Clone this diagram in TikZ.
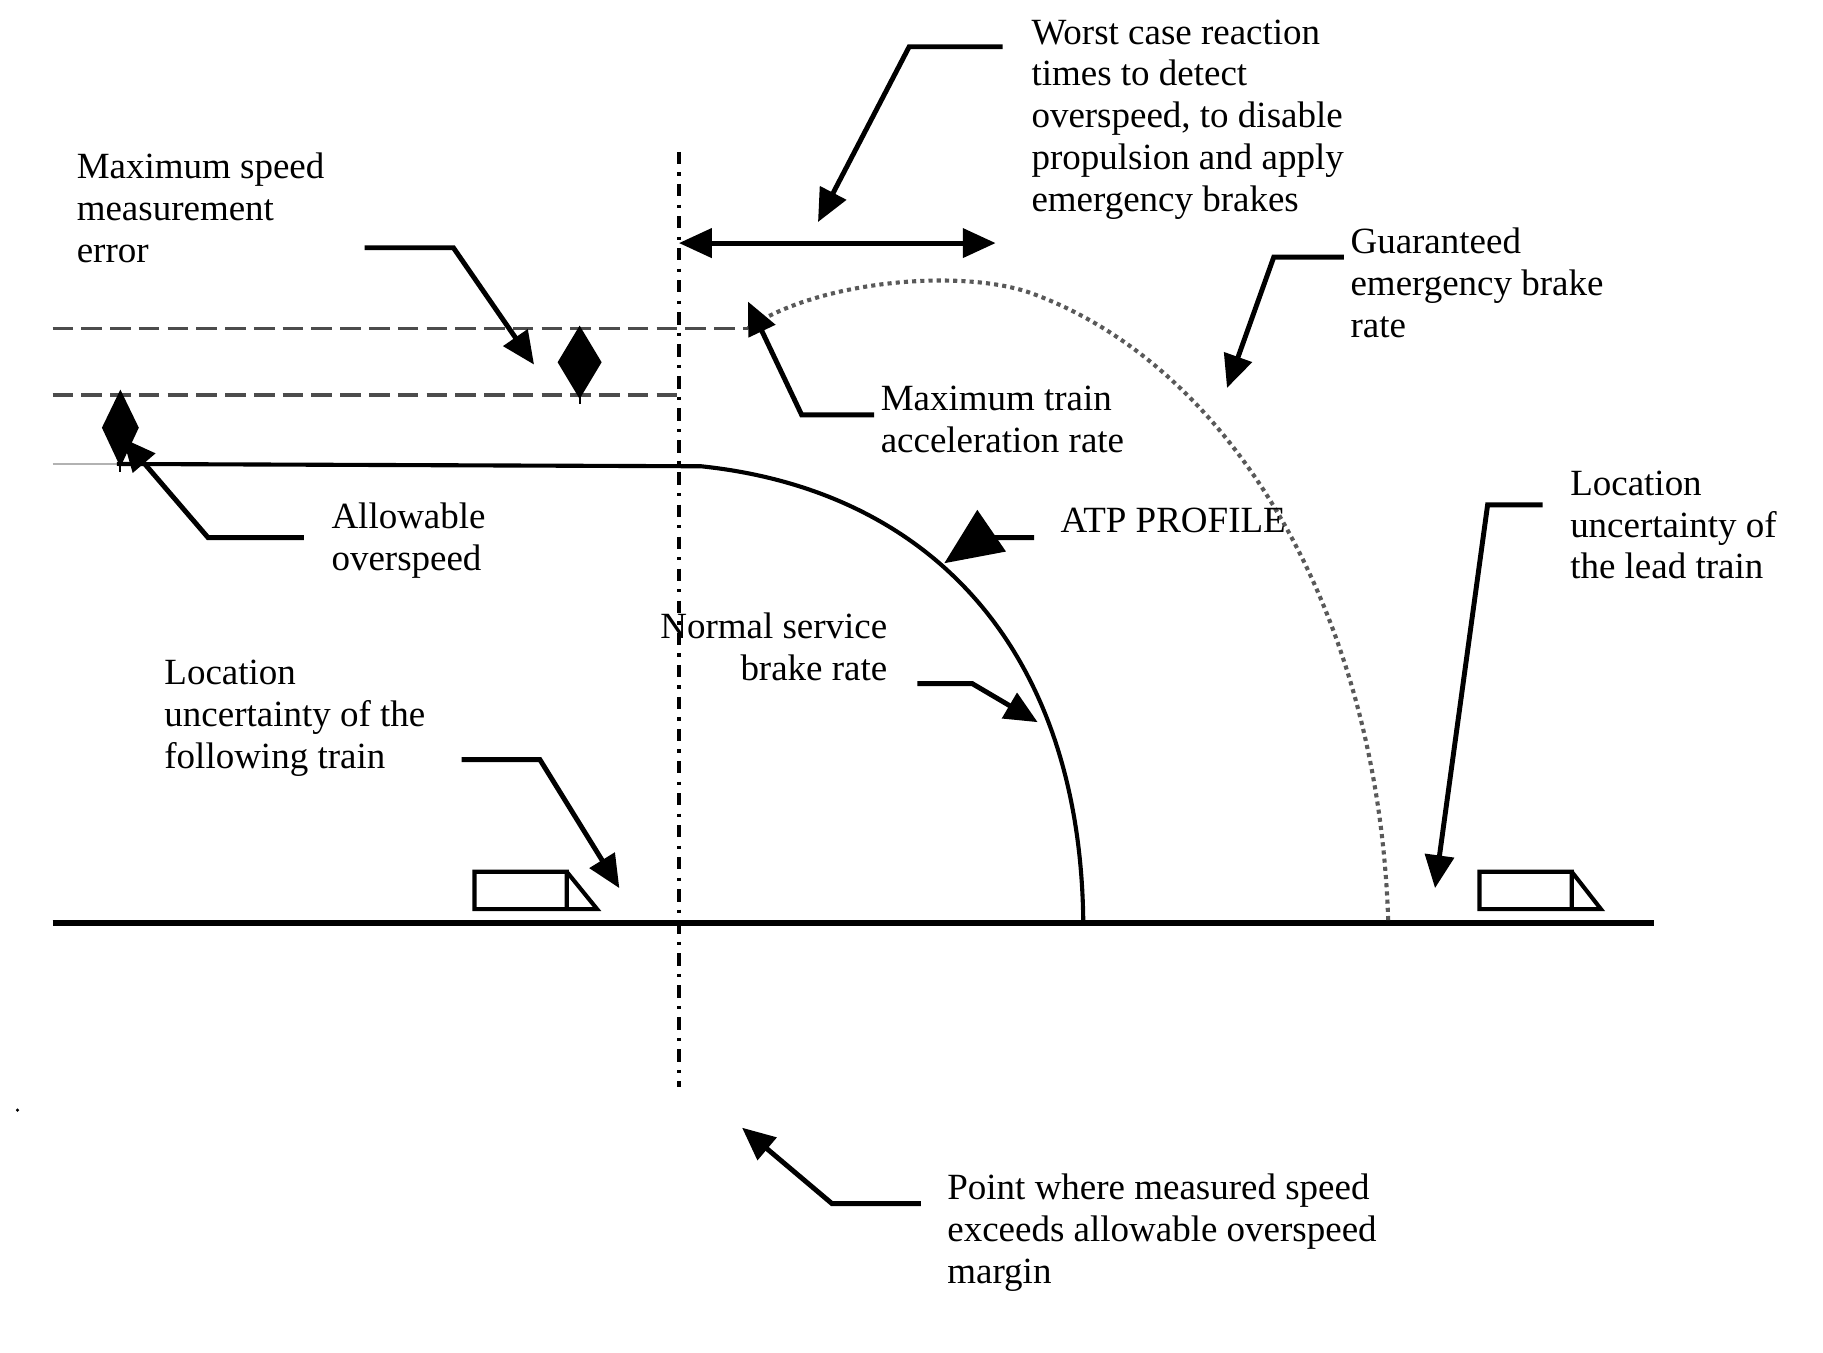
\documentclass[tikz,border=0pt]{standalone}
\usepackage{fontspec}
\setmainfont{Liberation Serif}
\usetikzlibrary{arrows.meta,positioning,calc}
\tikzset{
  txt/.style={anchor=north west, align=left, inner sep=0pt, font=\fontsize{9}{10.2}\selectfont},
  lead/.style={line width=1.2pt, -{Triangle[length=8pt,width=7pt]}},
  level/.style={line width=0.9pt, dash pattern=on 5pt off 2pt, gray!60!black},
  diam/.style={fill=black, draw=black}
}
\begin{document}
\begin{tikzpicture}[x=0.01cm, y=-0.01cm]
  \useasboundingbox (0,0) rectangle (1560,1157);
  % axis and reference lines
  \draw[line width=1.6pt] (45,790) -- (1415,790);
  \draw[line width=0.8pt, dash dot] (581,130) -- (581,930);
  \draw[level] (45,281) -- (640,281);
  \draw[level] (45,338) -- (581,338);
  \draw[gray!60] (45,397) -- (100,397);
  % curves
  \draw[line width=1pt, densely dotted, gray!70!black] (640,281) .. controls (700,240) and (820,230) .. (880,250)
     .. controls (1050,310) and (1180,520) .. (1188,790);
  \draw[line width=1pt] (100,397) -- (600,399) .. controls (800,420) and (925,560) .. (927,790);
  % diamonds
  \draw[diam] (103,335) -- (118,366) -- (103,398) -- (88,366) -- cycle;
  \draw[diam] (496,280) -- (514,310) -- (496,340) -- (478,310) -- cycle;
  \draw[line width=0.5pt] (103,398) -- (103,404) (496,340) -- (496,346);
  % double arrow
  \coordinate (dl) at (581,208); \coordinate (dr) at (852,208);
  \draw[line width=1.2pt, {Triangle[length=8pt,width=7pt]}-{Triangle[length=8pt,width=7pt]}] (dl) -- (dr);
  % trains
  \draw[line width=1pt] (406,746) rectangle (485,778) (485,746) -- (511,778) -- (485,778);
  \draw[line width=1pt] (1266,746) rectangle (1345,778) (1345,746) -- (1370,778) -- (1345,778);
  \fill (15,950) circle (1.5);
  % texts
  \node[txt] (wc) at (882,16) {Worst case reaction\\times to detect\\overspeed, to disable\\propulsion and apply\\emergency brakes};
  \node[txt] (ms) at (65,130) {Maximum speed\\measurement\\error};
  \node[txt] (ge) at (1155,194) {Guaranteed\\emergency brake\\rate};
  \node[txt] (mt) at (753,330) {Maximum train\\acceleration rate};
  \node[txt] (ll) at (1343,402) {Location\\uncertainty of\\the lead train};
  \node[txt] (ao) at (283,430) {Allowable\\overspeed};
  \node[txt] (atp) at (907,434) {ATP PROFILE};
  \node[txt, anchor=north east, align=right] (ns) at (760,524) {Normal service\\brake rate};
  \node[txt] (lf) at (140,564) {Location\\uncertainty of the\\following train};
  \node[txt] (pw) at (810,1004) {Point where measured speed\\exceeds allowable overspeed\\margin};
  % leaders
  \draw[lead] (858,40) -- (778,40) -- (700,190);
  \draw[lead] (312,212) -- (388,212) -- (457,312);
  \draw[lead] (748,355) -- (686,355) -- (640,258);
  \draw[lead] (1150,220) -- (1090,220) -- (1050,332);
  \draw[lead] (260,460) -- (178,460) -- (105,375);
  \draw[line width=1.2pt, -{Triangle[length=14pt,width=12pt]}] (885,460) -- (840,460) -- (808,482);
  \draw[lead] (785,585) -- (832,585) -- (888,618);
  \draw[lead] (395,650) -- (462,650) -- (530,760);
  \draw[lead] (1320,432) -- (1273,432) -- (1228,760);
  \draw[lead] (788,1030) -- (712,1030) -- (635,965);
\end{tikzpicture}
\end{document}
